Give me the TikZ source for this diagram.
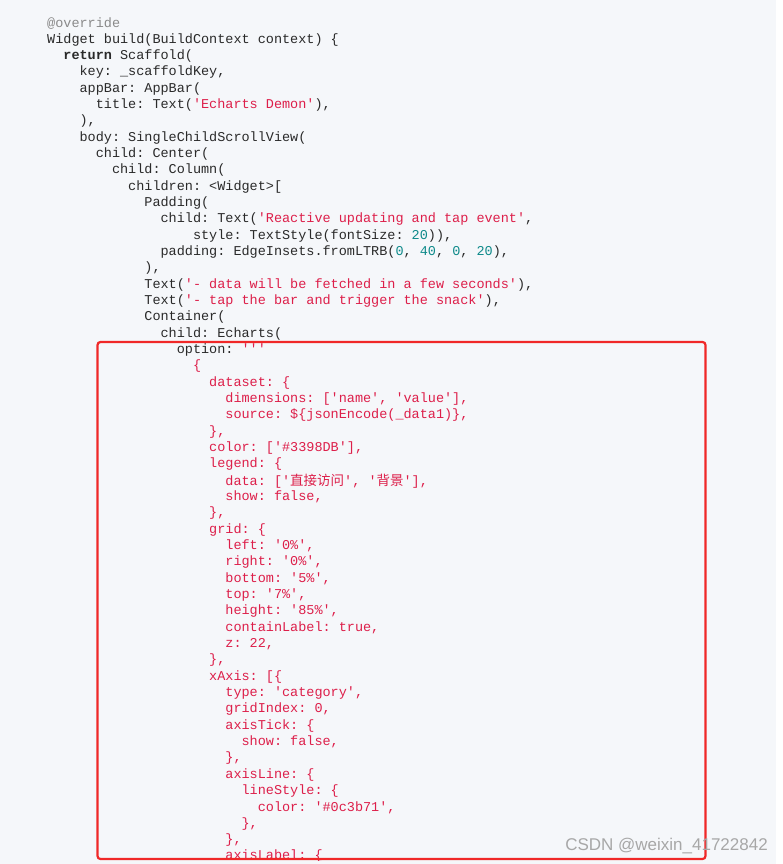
\documentclass[tikz,border=0pt]{standalone}
\usepackage{fontspec}
\setmonofont{Liberation Mono}
\newfontfamily\cjk{Noto Sans CJK SC}
\newfontfamily\wm{Liberation Sans}
\definecolor{bg}{HTML}{F5F7FA}
\definecolor{tx}{HTML}{2A2A2A}
\definecolor{rs}{HTML}{DD1F4A}
\definecolor{nm}{HTML}{0E8A8A}
\definecolor{gr}{HTML}{8A8A8A}
\definecolor{bx}{HTML}{F02828}
\newcommand{\rr}[1]{\textcolor{rs}{#1}}
\newcommand{\nn}[1]{\textcolor{nm}{#1}}
\begin{document}
\begin{tikzpicture}[x=1pt,y=-1pt,
  L/.style={anchor=west,inner sep=0pt,font=\ttfamily\fontsize{13.5}{14}\selectfont,text=tx},
  R/.style={L,text=rs}]
\useasboundingbox (0,0) rectangle (783,864);
\fill[white] (0,0) rectangle (783,864);
\fill[bg] (0,0) rectangle (776,864);
\def\dy{16.33}
\def\cw{8.1}
\newcommand{\cl}[4][L]{\node[#1] (l#2) at ({47+\cw*#3},{23.5+\dy*#2}) {#4};}
\cl{0}{0}{\textcolor{gr}{@override}}
\cl{1}{0}{Widget build(BuildContext context) \{}
\cl{2}{2}{\textbf{return} Scaffold(}
\cl{3}{4}{key: \_scaffoldKey,}
\cl{4}{4}{appBar: AppBar(}
\cl{5}{6}{title: Text(\rr{'Echarts Demon'}),}
\cl{6}{4}{),}
\cl{7}{4}{body: SingleChildScrollView(}
\cl{8}{6}{child: Center(}
\cl{9}{8}{child: Column(}
\cl{10}{10}{children: <Widget>[}
\cl{11}{12}{Padding(}
\cl{12}{14}{child: Text(\rr{'Reactive updating and tap event'},}
\cl{13}{18}{style: TextStyle(fontSize: \nn{20})),}
\cl{14}{14}{padding: EdgeInsets.fromLTRB(\nn{0}, \nn{40}, \nn{0}, \nn{20}),}
\cl{15}{12}{),}
\cl{16}{12}{Text(\rr{'- data will be fetched in a few seconds'}),}
\cl{17}{12}{Text(\rr{'- tap the bar and trigger the snack'}),}
\cl{18}{12}{Container(}
\cl{19}{14}{child: Echarts(}
\cl{20}{16}{option: \rr{'''}}
\cl[R]{21}{18}{\{}
\cl[R]{22}{20}{dataset: \{}
\cl[R]{23}{22}{dimensions: ['name', 'value'],}
\cl[R]{24}{22}{source: \$\{jsonEncode(\_data1)\},}
\cl[R]{25}{20}{\},}
\cl[R]{26}{20}{color: ['\#3398DB'],}
\cl[R]{27}{20}{legend: \{}
\cl[R]{28}{22}{data: ['{\cjk 直接访问}', '{\cjk 背景}'],}
\cl[R]{29}{22}{show: false,}
\cl[R]{30}{20}{\},}
\cl[R]{31}{20}{grid: \{}
\cl[R]{32}{22}{left: '0\%',}
\cl[R]{33}{22}{right: '0\%',}
\cl[R]{34}{22}{bottom: '5\%',}
\cl[R]{35}{22}{top: '7\%',}
\cl[R]{36}{22}{height: '85\%',}
\cl[R]{37}{22}{containLabel: true,}
\cl[R]{38}{22}{z: 22,}
\cl[R]{39}{20}{\},}
\cl[R]{40}{20}{xAxis: [\{}
\cl[R]{41}{22}{type: 'category',}
\cl[R]{42}{22}{gridIndex: 0,}
\cl[R]{43}{22}{axisTick: \{}
\cl[R]{44}{24}{show: false,}
\cl[R]{45}{22}{\},}
\cl[R]{46}{22}{axisLine: \{}
\cl[R]{47}{24}{lineStyle: \{}
\cl[R]{48}{26}{color: '\#0c3b71',}
\cl[R]{49}{24}{\},}
\cl[R]{50}{22}{\},}
\cl[R]{51}{22}{axisLabel: \{}
\fill[bg] (0,861) rectangle (776,864);
\node[draw=bx,line width=2.2pt,rounded corners=3pt,minimum width=608pt,minimum height=517pt,inner sep=0pt] (box) at (401.5,600.5) {};
\node[anchor=east,inner sep=0pt,font=\wm\fontsize{17}{18}\selectfont,text=gr!75] (wmk) at (768,846) {CSDN @weixin\_41722842};
\end{tikzpicture}
\end{document}
